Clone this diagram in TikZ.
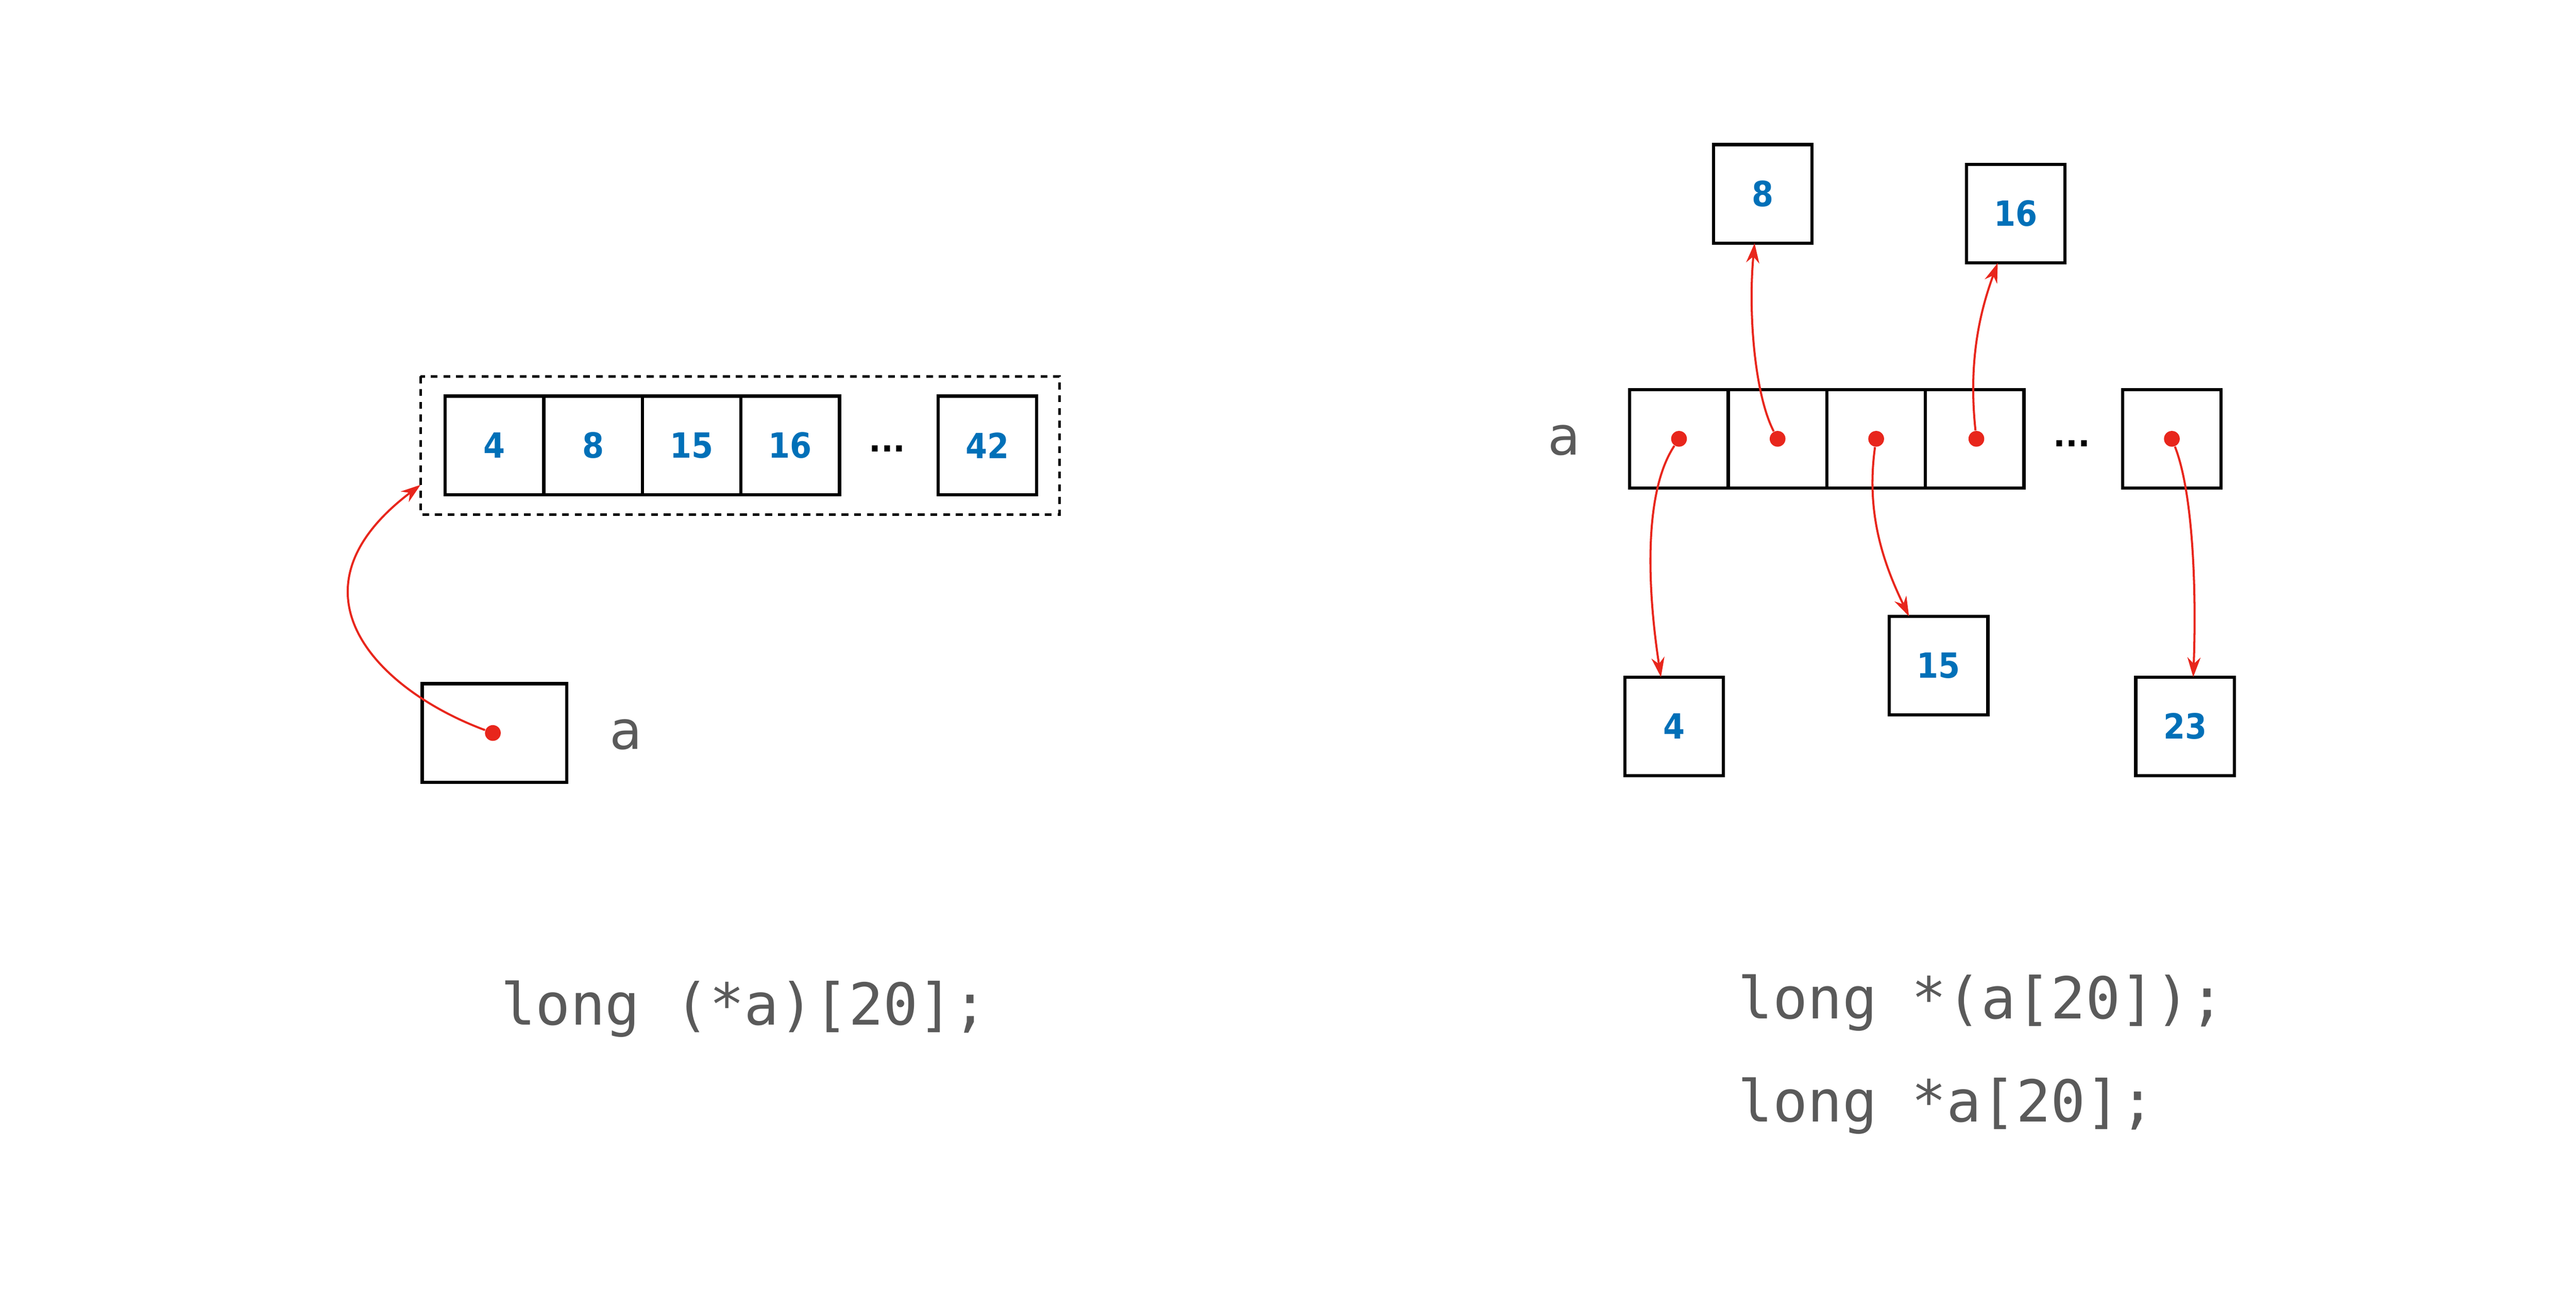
\documentclass[tikz,border=0pt]{standalone}
\usepackage{fontspec}
\setmainfont{DejaVu Sans}
\newfontfamily\numfont{DejaVu Sans Condensed}
\newfontfamily\codefont{DejaVu Sans Mono}
\usetikzlibrary{arrows.meta}
\definecolor{numblue}{HTML}{0070B8}
\definecolor{ptrred}{HTML}{E8261C}
\definecolor{txtgray}{HTML}{5A5A5A}
\begin{document}
\begin{tikzpicture}[x=0.25mm,y=-0.25mm,
  cell/.style={draw,line width=1.4pt,minimum width=15mm,minimum height=15mm,inner sep=0,font=\numfont\bfseries\fontsize{15}{15}\selectfont,text=numblue},
  ptr/.style={ptrred,line width=0.9pt,-{Stealth[length=3mm,width=2mm]}},
  dot/.style={circle,fill=ptrred,inner sep=0,minimum size=2.4mm},
  lbl/.style={text=txtgray,font=\fontsize{23}{23}\selectfont},
  code/.style={text=txtgray,font=\codefont\fontsize{25}{25}\selectfont,anchor=west},
  ell/.style={font=\bfseries\fontsize{14}{14}\selectfont}]
\useasboundingbox (0,0) rectangle (1568,784);
\fill[white] (0,0) rectangle (1568,784);
% left
\draw[line width=1.1pt,dotted,dash pattern=on 3pt off 2.5pt] (256,229) rectangle (645,313);
\node[cell] (l1) at (301,271) {4};
\node[cell] (l2) at (361,271) {8};
\node[cell] (l3) at (421,271) {15};
\node[cell] (l4) at (481,271) {16};
\node[ell] (ldots) at (540,273) {...};
\node[cell] (l5) at (601,271) {42};
\coordinate (arrtop) at (256,295);
\node[cell,minimum width=22mm] (pa) at (301,446) {};
\node[dot] (pd) at (300,446) {};
\node[lbl] (la) at (381,447) {a};
\draw[ptr] (pd) .. controls (230,420) and (170,360) .. (arrtop);
\node[code] (c1) at (300,614) {long (*a)[20];};
% right
\node[lbl] (ra) at (952,268) {a};
\node[cell] (r1) at (1022,267) {};
\node[cell] (r2) at (1082,267) {};
\node[cell] (r3) at (1142,267) {};
\node[cell] (r4) at (1202,267) {};
\node[ell] (rdots) at (1261,270) {...};
\node[cell] (r5) at (1322,267) {};
\node[dot] (d1) at (1022,267) {};
\node[dot] (d2) at (1082,267) {};
\node[dot] (d3) at (1142,267) {};
\node[dot] (d4) at (1203,267) {};
\node[dot] (d5) at (1322,267) {};
\node[cell] (b8) at (1073,118) {8};
\node[cell] (b16) at (1227,130) {16};
\node[cell] (b4) at (1019,442) {4};
\node[cell] (b15) at (1180,405) {15};
\node[cell] (b23) at (1330,442) {23};
\draw[ptr] (d1) .. controls (1000,300) and (1003,360) .. (1011,412);
\draw[ptr] (d2) .. controls (1068,240) and (1064,190) .. (1068,148);
\draw[ptr] (d3) .. controls (1136,310) and (1145,340) .. (1162,375);
\draw[ptr] (d4) .. controls (1198,220) and (1205,190) .. (1216,160);
\draw[ptr] (d5) .. controls (1335,300) and (1337,360) .. (1335,412);
\node[code] (c2) at (1053,610) {long *(a[20]);};
\node[code] (c3) at (1053,673) {long *a[20];};
\end{tikzpicture}
\end{document}
